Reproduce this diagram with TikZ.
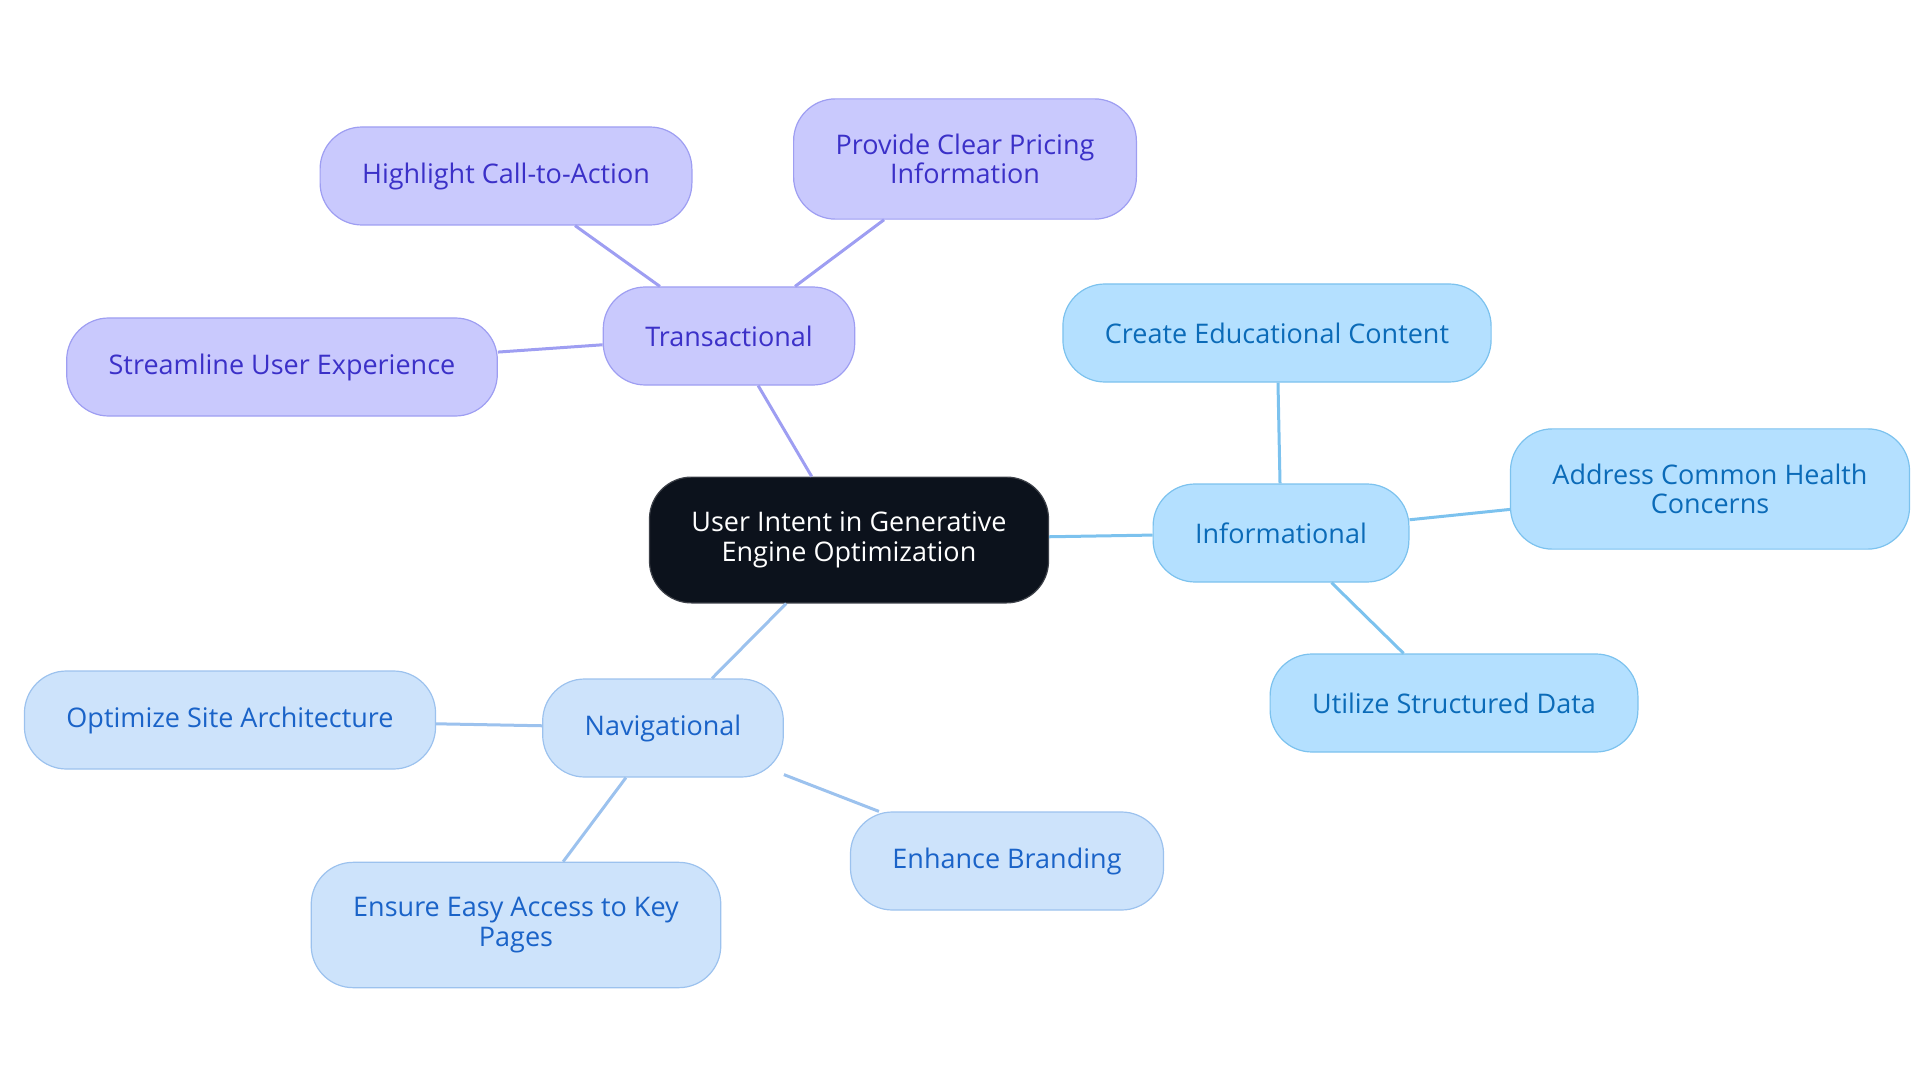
\documentclass[tikz,border=0pt]{standalone}
\usepackage{fontspec}
\setmainfont{Open Sans}
\definecolor{rootfill}{HTML}{0C121C}
\definecolor{transfill}{HTML}{C9C9FD}
\definecolor{transline}{HTML}{9E9EF2}
\definecolor{transtext}{HTML}{3B30C8}
\definecolor{infofill}{HTML}{B4E0FF}
\definecolor{infoline}{HTML}{7CC2EE}
\definecolor{infotext}{HTML}{0B6BB8}
\definecolor{navfill}{HTML}{CDE3FB}
\definecolor{navline}{HTML}{9CC2EE}
\definecolor{navtext}{HTML}{1A63C8}
\tikzset{
  box/.style={rounded corners=42pt, inner xsep=42pt, inner ysep=35pt, align=center,
    minimum height=98pt, line width=1.2pt, font=\fontsize{27}{29.5}\selectfont},
  rootbox/.style={box, fill=rootfill, draw=rootfill!80!white, text=white},
  transbox/.style={box, fill=transfill, draw=transline, text=transtext},
  infobox/.style={box, fill=infofill, draw=infoline, text=infotext},
  navbox/.style={box, fill=navfill, draw=navline, text=navtext},
}
\begin{document}
\begin{tikzpicture}[x=1pt,y=-1pt]
  \useasboundingbox (0,0) rectangle (1920,1083);
  \draw
    (849,540) node[rootbox] (root){User Intent in Generative\\Engine Optimization}
    (729,336) node[transbox] (trans){Transactional}
    (506,176) node[transbox] (cta){Highlight Call-to-Action}
    (965,159) node[transbox] (price){Provide Clear Pricing\\Information}
    (282,367) node[transbox] (flow){Streamline User Experience}
    (1281,533) node[infobox] (info){Informational}
    (1277,333) node[infobox] (edu){Create Educational Content}
    (1710,489) node[infobox] (health){Address Common Health\\Concerns}
    (1454,703) node[infobox] (data){Utilize Structured Data}
    (663,728) node[navbox] (nav){Navigational}
    (230,720) node[navbox] (site){Optimize Site Architecture}
    (1007,861) node[navbox] (brand){Enhance Branding}
    (516,925) node[navbox] (access){Ensure Easy Access to Key\\Pages};
  \begin{scope}[line width=3pt]
    \draw[transline] (root) to (trans);
    \draw[transline] (trans) to (cta);
    \draw[transline] (trans) to (price);
    \draw[transline] (trans) to (flow);
    \draw[infoline] (root) to (info);
    \draw[infoline] (info) to (edu);
    \draw[infoline] (info) to (health);
    \draw[infoline] (info) to (data);
    \draw[navline] (root) to (nav);
    \draw[navline] (nav) to (site);
    \draw[navline] (nav) to (brand);
    \draw[navline] (nav) to (access);
  \end{scope}
\end{tikzpicture}
\end{document}
